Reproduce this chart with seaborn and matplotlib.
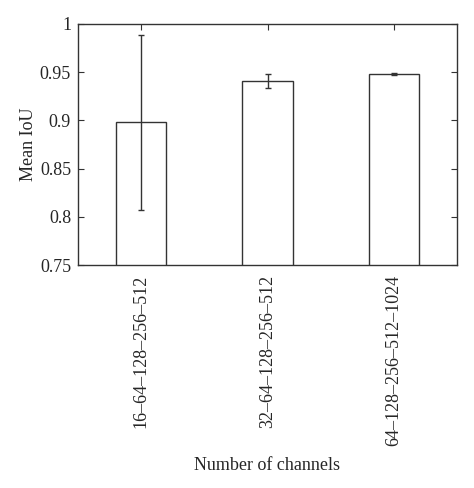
import numpy as np
import pandas as pd
import matplotlib
matplotlib.use('Agg')
import matplotlib.pyplot as plt
import seaborn as sns

channels = ['16\u201364\u2013128\u2013256\u2013512',
            '32\u201364\u2013128\u2013256\u2013512',
            '64\u2013128\u2013256\u2013512\u20131024']
mean_iou = [0.898, 0.941, 0.948]
iou_err = [0.091, 0.007, 0.0012]

sns.set_style('ticks')
plt.rcParams['font.family'] = ['Liberation Serif', 'DejaVu Serif']

df = pd.DataFrame({'channels': channels, 'iou': mean_iou})
edge = '#333333'

fig = plt.figure(figsize=(4.74, 4.88), dpi=100)
ax = fig.add_axes([78 / 474, 1 - 265 / 488, (457 - 78) / 474, (265 - 24) / 488])
sns.barplot(data=df, x='channels', y='iou', color='white', edgecolor=edge,
            linewidth=1.0, width=0.4, ax=ax)
ax.errorbar(np.arange(len(channels)), mean_iou, yerr=iou_err, fmt='none',
            ecolor=edge, elinewidth=1.0, capsize=2.3, capthick=1.0)

ax.set_xlim(-0.5, 2.5)
ax.set_ylim(0.75, 1.0)
ax.set_yticks([0.75, 0.8, 0.85, 0.9, 0.95, 1.0])
ax.set_yticklabels(['0.75', '0.8', '0.85', '0.9', '0.95', '1'])
ax.tick_params(direction='in', length=4, width=0.8, color=edge, labelsize=13,
               top=True, right=True, pad=5)
ax.tick_params(axis='x', labelrotation=90, pad=7)
for s in ax.spines.values():
    s.set_color(edge)
    s.set_linewidth(1.0)
ax.set_xlabel('Number of channels', fontsize=13, labelpad=8)
ax.set_ylabel('Mean IoU', fontsize=13, labelpad=2)

fig.savefig('out.png', dpi=100)
